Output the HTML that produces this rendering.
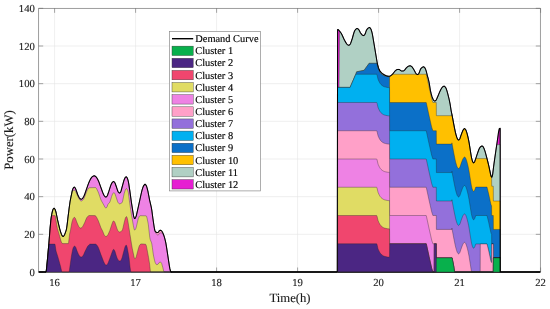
<!DOCTYPE html>
<html><head><meta charset="utf-8"><title>Power clusters</title>
<style>html,body{margin:0;padding:0;background:#fff;}svg{display:block;}text{text-rendering:geometricPrecision;}</style></head>
<body><svg width="550" height="309" viewBox="0 0 550 309">
<rect x="0" y="0" width="550" height="309" fill="#fff"/>
<g stroke="#e4e4e4" stroke-width="0.6"><line x1="54.60" y1="8.30" x2="54.60" y2="272.00"/><line x1="135.60" y1="8.30" x2="135.60" y2="272.00"/><line x1="216.60" y1="8.30" x2="216.60" y2="272.00"/><line x1="297.60" y1="8.30" x2="297.60" y2="272.00"/><line x1="378.60" y1="8.30" x2="378.60" y2="272.00"/><line x1="459.60" y1="8.30" x2="459.60" y2="272.00"/><line x1="38.70" y1="234.33" x2="540.30" y2="234.33"/><line x1="38.70" y1="196.67" x2="540.30" y2="196.67"/><line x1="38.70" y1="159.00" x2="540.30" y2="159.00"/><line x1="38.70" y1="121.33" x2="540.30" y2="121.33"/><line x1="38.70" y1="83.67" x2="540.30" y2="83.67"/><line x1="38.70" y1="46.00" x2="540.30" y2="46.00"/></g>
<rect x="38.70" y="8.30" width="501.60" height="263.70" fill="none" stroke="#6a6a6a" stroke-width="0.65"/>
<g stroke="#6a6a6a" stroke-width="0.6"><line x1="54.60" y1="272.00" x2="54.60" y2="267.50"/><line x1="54.60" y1="8.30" x2="54.60" y2="12.80"/><line x1="135.60" y1="272.00" x2="135.60" y2="267.50"/><line x1="135.60" y1="8.30" x2="135.60" y2="12.80"/><line x1="216.60" y1="272.00" x2="216.60" y2="267.50"/><line x1="216.60" y1="8.30" x2="216.60" y2="12.80"/><line x1="297.60" y1="272.00" x2="297.60" y2="267.50"/><line x1="297.60" y1="8.30" x2="297.60" y2="12.80"/><line x1="378.60" y1="272.00" x2="378.60" y2="267.50"/><line x1="378.60" y1="8.30" x2="378.60" y2="12.80"/><line x1="459.60" y1="272.00" x2="459.60" y2="267.50"/><line x1="459.60" y1="8.30" x2="459.60" y2="12.80"/><line x1="540.60" y1="272.00" x2="540.60" y2="267.50"/><line x1="540.60" y1="8.30" x2="540.60" y2="12.80"/><line x1="38.70" y1="272.00" x2="43.20" y2="272.00"/><line x1="540.30" y1="272.00" x2="535.80" y2="272.00"/><line x1="38.70" y1="234.33" x2="43.20" y2="234.33"/><line x1="540.30" y1="234.33" x2="535.80" y2="234.33"/><line x1="38.70" y1="196.67" x2="43.20" y2="196.67"/><line x1="540.30" y1="196.67" x2="535.80" y2="196.67"/><line x1="38.70" y1="159.00" x2="43.20" y2="159.00"/><line x1="540.30" y1="159.00" x2="535.80" y2="159.00"/><line x1="38.70" y1="121.33" x2="43.20" y2="121.33"/><line x1="540.30" y1="121.33" x2="535.80" y2="121.33"/><line x1="38.70" y1="83.67" x2="43.20" y2="83.67"/><line x1="540.30" y1="83.67" x2="535.80" y2="83.67"/><line x1="38.70" y1="46.00" x2="43.20" y2="46.00"/><line x1="540.30" y1="46.00" x2="535.80" y2="46.00"/><line x1="38.70" y1="8.33" x2="43.20" y2="8.33"/><line x1="540.30" y1="8.33" x2="535.80" y2="8.33"/></g>
<polygon points="45.60,272.00 45.60,272.00 45.85,271.96 46.10,271.73 46.35,270.34 46.60,268.05 47.35,260.52 48.85,244.01 50.10,228.33 50.85,220.30 51.35,216.70 51.85,213.78 52.35,211.53 53.10,209.30 53.60,208.53 53.85,208.28 54.10,208.20 54.35,208.36 54.60,208.66 55.10,209.50 55.60,210.96 56.10,212.76 57.60,220.10 58.60,224.49 59.60,228.50 60.60,232.05 61.35,234.13 61.85,235.26 62.10,235.68 62.85,236.42 63.10,236.50 63.35,236.43 63.60,236.23 64.35,235.26 64.85,234.15 66.10,230.59 66.60,228.52 67.10,225.11 68.10,216.58 69.35,206.71 70.10,201.50 70.60,198.79 72.35,190.48 72.60,189.60 73.10,188.37 73.60,187.61 74.10,187.16 74.35,187.10 74.60,187.23 75.10,187.79 75.60,188.78 76.35,190.76 77.85,195.04 79.10,197.52 79.85,198.52 80.60,199.09 81.10,199.29 81.35,199.28 81.60,199.19 82.35,198.65 82.85,198.07 83.60,196.79 84.10,195.78 85.10,193.20 88.35,183.87 89.35,181.49 90.35,179.38 91.10,178.14 91.85,177.19 92.35,176.67 93.10,176.16 93.60,175.93 94.10,175.80 94.35,175.81 94.85,175.98 95.60,176.43 95.85,176.64 96.60,177.58 97.60,179.27 98.35,180.70 98.85,181.88 102.60,192.27 103.35,194.10 104.10,195.51 104.60,196.25 105.35,196.89 105.85,197.10 106.10,197.05 106.60,196.62 107.10,195.96 107.60,194.97 108.85,191.38 110.60,185.84 111.35,184.07 111.85,183.09 112.35,182.35 112.85,181.88 113.35,181.55 113.60,181.50 113.85,181.58 114.10,181.78 114.85,182.77 115.10,183.29 116.35,186.79 117.60,190.56 118.10,191.70 118.60,192.37 119.10,192.88 119.35,193.04 119.60,193.10 119.85,193.00 120.10,192.74 120.60,191.93 121.10,190.76 123.60,181.53 124.10,180.00 124.60,178.71 125.10,177.71 125.85,176.91 126.10,176.80 126.35,176.87 126.60,177.10 127.10,177.82 127.60,178.96 128.10,180.62 128.60,182.90 129.85,191.12 131.35,202.10 133.35,214.62 133.60,215.95 133.85,216.86 134.35,218.22 134.60,218.57 134.85,218.56 135.10,218.34 135.35,217.96 136.10,216.37 136.35,215.54 138.10,207.93 141.35,193.00 142.35,189.16 143.10,186.95 143.60,185.78 143.85,185.37 144.35,184.72 144.85,184.27 145.10,184.20 145.35,184.30 145.60,184.55 146.35,185.79 146.60,186.42 147.60,190.00 148.10,192.23 149.60,200.10 151.35,207.67 151.85,210.57 152.85,218.28 154.10,226.73 154.60,229.50 154.85,230.48 155.10,231.10 155.35,231.47 155.85,232.01 156.60,232.47 157.10,232.60 157.60,232.54 158.35,232.26 158.60,231.96 159.10,230.94 159.35,230.64 160.10,230.36 160.60,230.30 160.85,230.35 161.35,230.69 162.10,231.51 162.60,232.40 163.10,233.55 163.85,235.51 164.60,237.90 165.35,240.85 165.85,243.20 166.60,247.62 169.35,265.80 169.85,268.67 170.10,269.75 170.60,271.37 170.85,271.90 171.10,272.00 171.35,272.00 171.35,272.00" fill="#ffa0c8" stroke="#222" stroke-width="0.35" stroke-linejoin="round"/>
<polygon points="45.60,272.00 45.60,272.00 45.85,271.96 46.10,271.73 46.35,270.34 46.60,268.05 47.35,260.52 48.85,244.01 50.10,228.33 50.85,220.30 51.35,216.70 51.85,213.78 52.35,211.53 53.10,209.30 53.60,208.53 53.85,208.28 54.10,208.20 54.35,208.36 54.60,208.66 55.10,209.50 55.60,210.96 56.10,212.76 57.60,220.10 58.60,224.49 59.60,228.50 60.60,232.05 61.35,234.13 61.85,235.26 62.10,235.68 62.85,236.42 63.10,236.50 63.35,236.43 63.60,236.23 64.35,235.26 64.85,234.15 66.10,230.59 66.60,228.52 67.10,225.11 68.10,216.58 69.35,206.71 70.10,201.50 70.60,198.79 72.35,190.48 72.60,189.60 73.10,188.37 73.60,187.61 74.10,187.16 74.35,187.10 74.60,187.23 75.10,187.79 75.60,188.78 76.35,190.76 77.85,195.04 79.10,197.52 79.85,198.52 80.60,199.09 81.10,199.29 81.35,199.28 81.60,199.19 82.35,198.65 82.85,198.07 83.60,196.79 84.10,195.78 85.10,193.20 88.35,183.87 89.35,181.49 90.35,179.38 91.10,178.14 91.85,177.19 92.35,176.67 93.10,176.16 93.60,175.93 94.10,175.80 94.35,175.81 94.85,175.98 95.60,176.43 95.85,176.64 96.60,177.58 97.60,179.27 98.35,180.70 98.85,181.88 102.60,192.27 103.35,194.10 104.10,195.51 104.60,196.25 105.35,196.89 105.85,197.10 106.10,197.05 106.60,196.62 107.10,195.96 107.60,194.97 108.85,191.38 110.60,185.84 111.35,184.07 111.85,183.09 112.35,182.35 112.85,181.88 113.35,181.55 113.60,181.50 113.85,181.58 114.10,181.78 114.85,182.77 115.10,183.29 116.35,186.79 117.60,190.56 118.10,191.70 118.60,192.37 119.10,192.88 119.35,193.04 119.60,193.10 119.85,193.00 120.10,192.74 120.60,191.93 121.10,190.76 123.60,181.53 124.10,180.00 124.60,178.71 125.10,177.71 125.85,176.91 126.10,176.80 126.35,176.87 126.60,177.10 127.10,177.82 127.60,178.96 128.10,180.62 128.60,182.90 129.85,191.12 131.35,202.10 133.35,214.62 133.60,215.95 133.85,216.86 134.35,218.22 134.60,218.57 134.85,218.56 135.10,218.34 135.35,217.96 136.10,216.37 136.35,215.54 137.85,209.05 141.60,191.93 142.35,189.16 143.10,186.95 143.60,185.78 143.85,185.60 146.10,185.60 146.35,185.79 146.85,187.19 147.85,191.05 149.60,200.10 151.35,207.67 151.85,210.57 152.85,218.28 153.85,225.09 154.35,228.22 154.85,230.80 155.10,231.65 155.85,233.22 156.60,234.26 157.10,234.72 157.60,234.93 158.35,234.94 158.60,234.70 159.10,233.73 159.35,233.44 160.60,232.83 161.10,232.78 162.10,233.15 162.60,233.65 163.60,235.20 164.10,236.24 165.10,239.80 165.60,241.96 166.10,244.57 169.35,265.80 169.85,268.67 170.10,269.75 170.60,271.37 170.85,271.90 171.10,272.00 171.35,272.00 171.35,272.00" fill="#ee82e4" stroke="#222" stroke-width="0.35" stroke-linejoin="round"/>
<polygon points="45.60,272.00 45.60,272.00 45.85,271.96 46.10,271.73 46.35,270.34 46.60,268.05 47.35,260.52 48.85,244.01 50.10,228.33 50.85,220.30 51.35,216.70 52.10,212.57 52.35,211.53 52.85,209.92 53.35,208.86 53.85,208.28 54.10,208.20 54.35,208.36 54.85,209.04 55.35,210.17 56.10,212.76 57.60,220.10 58.85,225.55 59.60,228.50 60.60,232.05 61.35,234.13 61.85,235.26 62.10,235.68 62.85,236.42 63.10,236.50 63.35,236.43 63.60,236.23 64.10,235.62 64.60,234.77 66.10,230.59 66.60,228.52 67.10,225.11 68.10,216.58 69.85,203.08 70.35,200.09 70.85,197.57 72.10,191.61 72.35,191.00 72.60,190.99 72.85,190.88 73.60,190.45 74.35,190.30 74.60,190.35 75.10,190.76 75.35,191.04 75.60,191.46 77.85,196.58 79.35,199.42 79.85,200.11 80.35,200.54 80.85,200.88 81.35,201.00 81.85,200.83 82.60,200.31 83.10,199.75 83.85,198.58 84.60,196.99 86.10,192.97 87.35,190.10 87.85,189.20 88.85,188.04 89.35,187.72 89.60,187.70 95.35,187.60 95.60,187.61 95.85,187.73 96.35,188.29 96.85,189.17 98.10,191.81 98.85,193.70 100.60,198.88 101.10,200.10 101.60,201.12 103.85,205.04 104.85,207.07 105.35,207.68 105.60,207.89 105.85,208.00 106.10,207.94 106.35,207.75 106.85,207.12 107.10,206.67 107.85,204.51 108.10,204.00 108.60,203.45 109.35,202.81 109.85,202.05 110.35,200.73 111.60,196.48 112.10,195.10 112.85,193.51 113.35,192.92 113.60,192.71 113.85,192.60 114.10,192.66 114.35,192.88 114.85,193.59 115.10,194.06 117.60,201.47 118.10,202.50 118.60,203.20 118.85,203.44 119.35,203.74 119.85,203.78 120.35,203.64 121.10,203.33 121.85,202.77 122.10,202.50 122.35,202.02 122.60,201.22 124.10,193.87 125.10,190.44 125.35,189.84 125.85,189.04 126.10,188.75 126.35,188.60 126.60,188.67 126.85,188.91 127.35,189.64 127.60,190.18 128.10,191.72 128.35,192.81 129.85,204.21 131.35,214.09 133.35,225.40 134.10,228.94 134.35,229.62 134.60,230.05 134.85,230.06 135.10,229.82 135.35,229.43 135.85,228.42 136.35,226.79 137.85,220.25 138.35,218.37 139.10,216.83 139.60,216.08 139.85,215.83 140.10,215.71 140.35,215.70 146.10,215.80 146.35,215.98 146.60,216.48 147.10,218.21 148.10,223.10 148.35,224.63 149.60,235.89 149.85,237.71 150.10,239.00 150.35,239.84 151.35,242.20 151.60,243.00 151.85,244.14 152.35,247.34 153.10,252.95 153.60,256.00 154.60,260.58 155.10,262.29 155.35,262.88 156.10,264.23 156.35,264.50 156.60,264.60 156.85,264.59 157.85,264.32 158.10,264.12 159.10,262.58 159.35,262.38 160.35,262.11 160.60,262.10 160.85,262.22 161.10,262.51 161.60,263.37 161.85,264.02 162.85,267.64 163.60,270.75 163.85,271.53 164.10,271.96 164.35,272.00 171.35,272.00 171.35,272.00" fill="#e0dc64" stroke="#222" stroke-width="0.35" stroke-linejoin="round"/>
<polygon points="45.60,272.00 45.60,272.00 45.85,271.96 46.10,271.73 46.35,270.34 46.60,268.05 47.35,260.52 49.10,241.18 49.85,231.35 50.60,222.69 51.10,218.38 51.35,216.70 51.60,215.60 55.10,215.62 55.35,216.28 56.85,225.53 57.35,228.22 60.85,240.49 61.35,242.04 61.85,243.06 62.10,243.30 62.85,243.59 68.10,243.60 68.35,243.57 68.60,242.59 69.60,234.00 70.60,229.51 71.85,222.62 72.35,220.74 72.85,219.24 73.10,218.67 73.60,217.88 74.10,217.36 74.35,217.30 74.60,217.42 74.85,217.66 75.35,218.32 75.60,218.80 76.60,221.60 77.60,224.04 78.60,226.24 79.10,227.03 79.60,227.53 80.35,228.02 80.85,228.09 81.35,227.87 82.10,227.31 82.85,226.25 84.60,222.77 86.10,219.10 86.85,217.59 87.60,216.64 88.35,215.89 88.85,215.57 89.35,215.50 95.10,215.61 95.35,215.71 95.85,216.17 96.60,217.33 98.35,220.83 100.85,227.53 101.35,228.62 102.60,231.00 104.10,234.69 104.35,235.17 104.85,235.80 105.35,236.27 105.85,236.50 106.35,236.37 107.10,235.82 107.60,235.26 108.10,234.41 108.85,232.78 109.85,230.38 111.60,225.04 112.60,222.19 112.85,221.64 113.10,221.30 113.35,221.02 113.60,220.90 113.85,220.99 114.10,221.21 114.85,222.34 117.10,228.90 117.60,230.13 118.10,231.00 118.60,231.54 118.85,231.73 119.35,231.96 119.60,232.00 120.10,231.91 120.85,231.59 121.60,231.06 122.10,230.50 122.35,230.04 122.60,229.33 123.10,227.41 124.10,222.89 125.10,218.88 125.35,218.12 125.85,217.14 126.10,216.78 126.35,216.61 126.60,216.73 127.10,217.69 127.35,218.56 127.85,220.83 131.35,243.10 132.35,248.88 134.10,257.02 134.35,257.91 134.60,258.47 134.85,258.79 135.10,258.73 135.35,258.49 135.85,257.64 136.35,256.53 137.60,251.45 138.60,247.90 139.10,246.33 139.60,245.24 140.35,244.36 140.85,243.99 141.10,243.91 143.35,243.99 145.60,244.30 145.85,244.53 146.10,245.07 146.60,246.92 148.60,257.69 149.60,264.00 150.35,271.07 150.60,272.00 171.35,272.00 171.35,272.00" fill="#f0466e" stroke="#222" stroke-width="0.35" stroke-linejoin="round"/>
<polygon points="45.60,272.00 45.60,272.00 45.85,271.96 46.10,271.73 46.35,270.34 47.35,260.52 48.85,244.10 54.85,244.12 55.10,244.83 55.85,249.76 56.10,251.10 56.35,252.06 57.85,256.69 58.85,260.14 60.60,266.60 61.60,271.00 61.85,271.73 62.10,272.00 68.85,272.00 69.10,271.66 69.35,270.47 71.35,256.49 72.10,252.23 72.85,248.75 73.35,247.43 73.85,246.62 74.35,246.18 74.60,246.10 74.85,246.18 75.35,246.71 75.85,247.48 77.10,251.10 78.35,253.96 79.10,255.41 79.60,256.12 80.10,256.57 80.85,257.03 81.35,257.09 81.85,256.87 82.35,256.51 82.60,256.29 83.10,255.60 83.60,254.63 84.85,251.81 86.60,248.24 87.35,246.80 87.85,246.02 88.60,245.18 89.35,244.47 89.85,244.17 90.35,244.10 95.60,244.11 95.85,244.19 96.35,244.56 97.35,245.80 98.10,247.01 98.85,248.75 100.85,254.35 103.60,261.51 104.85,264.06 105.35,264.66 105.85,265.04 106.10,265.10 106.35,265.05 106.60,264.91 107.35,264.21 107.85,263.45 108.35,262.33 110.10,257.69 112.60,250.70 112.85,250.14 113.10,249.80 113.35,249.52 113.60,249.40 113.85,249.49 114.10,249.74 114.85,250.97 115.10,251.65 116.10,255.10 116.85,257.27 117.35,258.52 117.85,259.41 118.60,260.39 119.10,260.77 119.60,261.04 119.85,261.10 120.10,261.05 120.60,260.67 120.85,260.40 121.35,259.53 122.10,257.64 123.85,250.99 125.10,246.60 125.60,245.67 125.85,245.32 126.10,245.12 126.35,245.18 126.60,245.60 127.10,247.03 128.10,252.20 129.10,258.28 130.10,267.40 130.35,269.08 130.60,270.68 130.85,271.78 131.10,272.00 171.35,272.00 171.35,272.00" fill="#4b2683" stroke="#222" stroke-width="0.35" stroke-linejoin="round"/>
<polygon points="337.60,272.00 337.60,29.50 338.00,29.50 339.00,30.44 340.10,31.75 341.20,33.31 342.10,34.99 344.50,40.21 346.60,43.71 347.10,44.34 347.50,44.71 348.30,45.15 348.90,45.30 349.30,45.15 349.80,44.65 350.30,44.00 350.70,43.19 352.30,38.49 353.70,33.49 354.20,31.93 354.50,31.20 355.00,30.29 355.50,29.56 355.90,29.14 356.60,28.65 357.10,28.50 357.60,28.64 358.40,29.20 359.00,30.00 360.40,32.70 361.60,34.37 362.30,35.05 363.10,35.49 363.60,35.60 363.90,35.51 364.20,35.27 365.00,34.25 365.40,33.29 366.40,30.38 366.80,29.69 367.40,28.87 368.10,28.17 369.00,27.65 369.60,27.50 369.80,27.56 370.00,27.72 370.70,28.74 371.10,29.58 371.70,31.48 372.30,33.87 372.80,36.58 377.10,62.27 377.60,64.71 378.30,67.18 378.80,68.67 379.30,69.87 379.70,70.60 380.50,71.70 381.30,72.57 382.20,73.37 383.40,74.24 384.60,74.95 386.20,75.68 387.60,76.13 389.10,76.30 389.60,76.21 390.20,76.01 390.80,75.71 391.60,75.05 393.30,73.27 395.20,70.88 395.90,70.28 396.60,69.82 397.30,69.55 397.90,69.41 398.50,69.42 399.20,69.52 399.50,69.60 399.80,69.77 400.80,70.66 401.20,70.90 402.40,71.09 403.10,71.02 403.90,70.68 404.30,70.39 404.80,69.85 406.30,67.89 407.70,66.70 408.70,66.12 409.50,65.88 410.10,65.80 410.50,65.87 411.10,66.14 411.60,66.46 412.00,66.86 412.70,67.82 414.20,70.26 415.50,72.76 416.00,73.57 416.30,73.90 417.00,74.40 417.40,74.58 417.70,74.59 418.20,74.27 419.00,73.27 419.40,72.31 420.30,69.69 420.60,69.10 421.10,68.43 421.70,67.77 422.30,67.31 423.30,66.86 423.70,66.80 423.90,66.85 424.20,67.06 424.50,67.39 424.90,67.90 425.20,68.43 425.80,69.92 426.40,71.78 427.20,75.10 428.40,79.48 428.90,81.54 429.30,83.62 430.40,90.52 431.20,93.96 431.90,96.44 432.50,98.10 433.30,99.77 433.60,100.22 434.00,100.63 434.40,100.96 434.70,101.09 435.00,101.06 435.40,100.82 436.10,100.10 436.40,99.64 437.90,96.30 439.90,91.42 441.10,89.04 441.90,87.75 442.40,87.16 442.90,86.69 443.80,86.25 444.10,86.20 444.40,86.28 445.10,86.83 445.50,87.37 446.00,88.29 446.70,90.06 447.50,92.82 448.90,98.32 450.10,104.10 451.10,110.55 452.20,115.80 453.80,124.57 454.90,130.03 456.00,134.75 456.80,137.38 457.30,138.63 457.90,139.55 458.30,139.98 458.50,140.09 458.70,140.09 459.10,139.80 459.70,138.97 460.00,138.39 461.00,135.38 462.20,132.11 462.80,130.68 463.40,129.60 463.90,128.97 464.30,128.69 464.60,128.60 464.80,128.66 465.00,128.81 465.60,129.56 466.10,130.66 467.00,133.38 467.70,136.04 468.50,139.62 469.20,143.45 471.10,155.49 471.60,158.10 472.10,160.10 472.50,161.35 473.10,162.47 473.50,162.88 473.70,162.88 474.00,162.67 474.50,162.02 474.80,161.43 478.50,150.52 479.00,149.20 479.50,148.16 480.00,147.43 480.50,146.85 480.90,146.51 481.40,146.22 481.80,146.05 482.20,146.01 482.50,146.16 482.80,146.45 483.40,147.20 483.90,148.24 484.80,150.67 485.40,152.63 487.10,159.00 488.30,163.82 490.90,175.78 491.30,176.81 491.60,177.26 491.70,177.30 491.80,177.25 492.10,176.60 492.70,174.09 493.60,166.70 494.30,161.57 498.50,132.32 499.00,129.81 499.30,128.69 499.50,128.40 500.20,128.30 500.20,272.00" fill="#e61ed2" stroke="#222" stroke-width="0.35" stroke-linejoin="round"/>
<polygon points="337.60,272.00 337.60,87.40 339.00,87.40 339.60,31.12 340.70,32.57 341.50,33.82 342.30,35.41 344.40,40.01 346.40,43.42 347.00,44.23 347.50,44.71 348.40,45.19 349.00,45.29 349.40,45.07 349.90,44.53 350.30,44.00 350.70,43.19 352.30,38.49 353.70,33.49 354.20,31.93 354.50,31.20 355.00,30.29 355.50,29.56 355.90,29.14 356.60,28.65 357.10,28.50 357.60,28.64 358.40,29.20 359.00,30.00 360.40,32.70 361.60,34.37 362.10,34.90 362.70,35.29 363.30,35.56 363.70,35.59 363.90,35.51 364.20,35.27 365.00,34.25 365.40,33.29 366.40,30.38 367.20,29.12 367.80,28.43 368.30,28.03 369.10,27.61 369.40,27.52 369.70,27.52 369.90,27.63 370.20,27.96 371.00,29.33 371.60,31.12 372.30,33.87 372.80,36.58 376.90,61.13 377.30,63.33 377.70,65.10 378.70,68.39 379.50,70.26 380.00,71.04 380.70,71.93 381.40,72.67 382.20,73.37 383.30,74.17 384.30,74.79 385.30,75.30 386.40,75.76 387.30,76.06 388.20,76.23 389.00,76.30 389.60,76.21 390.60,75.84 391.40,75.24 393.30,73.27 395.20,70.88 395.90,70.28 396.60,69.82 397.30,69.55 397.90,69.41 398.50,69.42 399.20,69.52 399.50,69.60 399.80,69.77 400.80,70.66 401.20,70.90 402.40,71.09 403.10,71.02 403.90,70.68 404.30,70.39 404.80,69.85 406.30,67.89 407.70,66.70 408.70,66.12 409.50,65.88 410.10,65.80 410.50,65.87 411.10,66.14 411.60,66.46 412.00,66.86 412.70,67.82 414.20,70.26 415.50,72.76 416.00,73.57 416.30,73.90 417.00,74.40 417.40,74.58 417.70,74.59 418.20,74.27 419.00,73.27 419.40,72.31 420.30,69.69 420.60,69.10 421.10,68.43 421.70,67.77 422.30,67.31 423.30,66.86 423.70,66.80 423.90,66.85 424.20,67.06 424.50,67.39 424.90,67.90 425.20,68.43 425.80,69.92 426.40,71.78 427.20,75.10 428.40,79.48 428.90,81.54 429.30,83.62 430.40,90.52 431.20,93.96 431.90,96.44 432.50,98.10 433.30,99.77 433.60,100.22 434.00,100.63 434.40,100.96 434.70,101.09 435.00,101.06 435.40,100.82 436.10,100.10 436.40,99.64 437.90,96.30 439.90,91.42 441.10,89.04 441.90,87.75 442.40,87.16 442.90,86.69 443.40,86.41 443.90,86.22 444.20,86.21 444.50,86.34 445.00,86.74 445.30,87.07 445.70,87.71 446.20,88.72 446.80,90.37 447.70,93.57 449.00,98.75 450.10,104.10 451.10,110.55 452.20,115.80 453.80,124.57 454.70,129.06 455.80,134.01 456.50,136.45 457.00,137.94 457.40,138.82 458.20,139.90 458.40,140.05 458.60,140.10 458.80,140.05 459.00,139.90 459.70,138.97 460.00,138.39 461.00,135.38 462.20,132.11 462.80,130.68 463.40,129.60 463.90,128.97 464.30,128.69 464.60,128.60 464.80,128.66 465.00,128.81 465.60,129.56 466.10,130.66 467.00,133.38 467.70,136.04 468.50,139.62 469.20,143.45 471.10,155.49 471.60,158.10 472.10,160.10 472.50,161.35 473.00,162.31 473.40,162.82 473.70,162.88 474.00,162.67 474.50,162.02 474.80,161.43 478.40,150.80 479.00,149.20 479.40,148.34 480.20,147.18 480.90,146.51 481.50,146.17 481.90,146.02 482.20,146.01 482.50,146.16 483.30,147.05 483.70,147.78 484.60,150.10 485.20,151.94 487.00,158.61 488.20,163.40 490.90,175.78 491.40,177.01 491.60,177.26 491.70,177.30 491.80,177.25 492.00,176.88 492.30,175.88 492.60,174.63 492.80,173.43 494.00,163.74 496.70,144.94 496.80,144.60 500.20,144.60 500.20,272.00" fill="#b0d0c4" stroke="#222" stroke-width="0.35" stroke-linejoin="round"/>
<polygon points="337.60,272.00 337.60,87.40 350.10,87.40 355.80,74.20 356.60,71.80 364.10,70.30 369.10,63.30 376.60,63.30 376.70,63.35 376.90,63.69 377.10,64.30 377.90,67.74 378.20,68.70 379.40,71.25 380.00,72.30 380.50,73.03 381.00,73.61 381.70,74.22 382.60,74.89 383.40,75.37 384.70,75.92 386.80,76.40 388.20,76.62 389.50,76.70 389.60,76.21 390.40,75.94 390.90,75.64 391.50,75.14 392.40,74.25 416.70,74.25 417.20,74.51 417.60,74.60 417.90,74.51 418.30,74.25 426.20,74.25 426.30,74.48 429.00,87.00 431.70,98.88 432.90,102.50 436.30,102.50 436.40,115.65 451.80,115.65 451.90,114.35 454.00,125.60 455.10,130.98 455.80,134.01 456.60,136.77 457.10,138.19 457.40,138.82 457.80,139.42 458.10,139.80 458.40,140.05 458.70,140.09 459.00,139.90 459.40,139.42 459.90,138.62 460.20,137.86 461.00,135.38 462.30,131.85 462.90,130.47 463.50,129.44 463.90,128.97 464.30,128.69 464.60,128.60 464.80,128.66 465.00,128.81 465.50,129.42 466.00,130.40 466.80,132.72 467.50,135.23 468.20,138.22 469.10,142.84 471.30,156.64 472.00,159.73 472.60,161.58 473.10,162.47 473.40,162.82 473.60,162.90 473.90,162.76 474.30,162.30 474.70,161.66 475.80,158.60 487.00,158.61 488.70,165.54 490.80,175.38 491.10,176.37 491.40,177.01 491.60,177.26 491.70,186.20 493.30,186.20 493.40,201.00 500.20,201.00 500.20,272.00" fill="#ffc000" stroke="#222" stroke-width="0.35" stroke-linejoin="round"/>
<polygon points="337.60,272.00 337.60,87.40 350.10,87.40 355.80,74.20 356.60,71.80 364.10,70.30 369.10,63.30 376.60,63.30 376.80,63.48 377.10,64.30 377.90,67.74 378.20,68.70 379.00,70.46 379.70,71.80 380.40,72.89 381.00,73.61 381.80,74.30 382.70,74.95 383.60,75.47 384.40,75.82 385.60,76.14 387.20,76.47 388.40,76.64 389.50,76.70 389.60,102.50 426.20,102.50 426.30,102.73 429.00,115.25 431.70,127.13 432.90,130.75 436.30,130.75 436.40,144.10 451.80,144.10 451.90,142.80 454.00,154.05 455.10,159.43 455.80,162.46 456.60,165.22 457.10,166.64 457.40,167.27 457.80,167.87 458.10,168.25 458.40,168.50 458.70,168.54 459.00,168.35 459.40,167.87 459.90,167.07 460.20,166.31 461.00,163.83 462.30,160.30 462.90,158.92 463.50,157.89 463.90,157.42 464.30,157.14 464.60,157.05 464.80,157.11 465.00,157.26 465.50,157.87 466.00,158.85 466.80,161.17 467.50,163.68 468.20,166.67 469.10,171.29 471.30,185.09 472.00,188.18 472.60,190.03 473.10,190.92 473.40,191.27 473.60,191.35 473.90,191.21 474.30,190.75 474.70,190.11 475.80,187.05 487.00,187.06 488.70,193.99 490.80,203.83 491.10,204.82 491.40,205.46 491.60,205.71 491.70,215.50 493.30,215.50 493.40,229.45 500.20,229.45 500.20,272.00" fill="#0b70c8" stroke="#222" stroke-width="0.35" stroke-linejoin="round"/>
<polygon points="337.60,272.00 337.60,87.40 350.10,87.40 355.80,74.25 376.60,74.25 376.80,74.43 377.10,75.25 377.90,78.69 378.20,79.65 379.00,81.41 379.70,82.75 380.40,83.84 381.00,84.56 381.80,85.25 382.70,85.90 383.60,86.42 384.40,86.77 385.60,87.09 387.20,87.42 388.40,87.59 389.50,87.65 389.60,130.75 426.20,130.75 426.30,130.98 429.00,143.50 431.70,155.38 432.90,159.00 436.30,159.00 436.40,172.55 451.80,172.55 451.90,171.25 454.00,182.50 455.10,187.88 455.80,190.91 456.60,193.67 457.10,195.09 457.40,195.72 457.80,196.32 458.10,196.70 458.40,196.95 458.70,196.99 459.00,196.80 459.40,196.32 459.90,195.52 460.20,194.76 461.00,192.28 462.30,188.75 462.90,187.37 463.50,186.34 463.90,185.87 464.30,185.59 464.60,185.50 464.80,185.56 465.00,185.71 465.50,186.32 466.00,187.30 466.80,189.62 467.50,192.13 468.20,195.12 469.10,199.74 471.30,213.54 472.00,216.63 472.60,218.48 473.10,219.37 473.40,219.72 473.60,219.80 473.90,219.66 474.30,219.20 474.70,218.56 475.80,215.50 487.00,215.51 488.70,222.44 490.80,232.28 491.10,233.27 491.40,233.91 491.60,234.16 491.70,243.95 493.30,243.95 493.40,257.90 500.20,257.90 500.20,272.00" fill="#00b0f0" stroke="#222" stroke-width="0.35" stroke-linejoin="round"/>
<polygon points="337.60,272.00 337.60,102.50 376.60,102.50 376.70,102.55 376.90,102.89 377.10,103.50 377.90,106.94 378.20,107.90 379.00,109.66 379.70,111.00 380.40,112.09 381.00,112.81 381.80,113.50 382.70,114.15 383.60,114.67 384.40,115.02 385.60,115.34 387.20,115.67 388.40,115.84 389.50,115.90 389.60,159.00 426.20,159.00 426.30,159.23 429.00,171.75 431.70,183.63 432.90,187.25 436.30,187.25 436.40,201.00 451.80,201.00 451.90,199.70 454.00,210.95 455.60,218.55 456.30,221.13 457.00,223.29 457.40,224.17 458.10,225.15 458.50,225.44 458.80,225.40 459.20,225.03 459.80,224.16 460.20,223.21 461.00,220.73 462.40,216.95 463.00,215.63 463.70,214.52 463.90,214.32 464.40,213.99 464.60,213.95 464.80,214.01 465.10,214.26 465.50,214.77 465.90,215.51 466.60,217.45 467.20,219.44 467.90,222.23 468.60,225.45 469.20,228.80 471.10,240.84 471.60,243.45 472.40,246.43 472.70,247.13 473.20,247.96 473.50,248.23 473.70,248.23 474.00,248.02 474.50,247.37 474.90,246.52 475.80,243.95 487.00,243.96 488.70,250.89 490.80,260.73 491.10,261.72 491.40,262.36 491.60,262.61 491.70,243.95 493.30,243.95 493.40,257.90 500.20,257.90 500.20,272.00" fill="#9370db" stroke="#222" stroke-width="0.35" stroke-linejoin="round"/>
<polygon points="337.60,272.00 337.60,130.75 376.60,130.75 376.80,130.93 377.10,131.75 377.90,135.19 378.20,136.15 379.00,137.91 379.70,139.25 380.40,140.34 381.00,141.06 381.80,141.75 382.70,142.40 383.60,142.92 384.40,143.27 385.60,143.59 387.20,143.92 388.40,144.09 389.50,144.15 389.60,187.25 426.20,187.25 426.30,187.48 429.00,200.00 431.70,211.88 432.90,215.50 436.30,215.50 436.40,229.45 451.80,229.45 451.90,228.15 454.00,239.40 455.10,244.78 455.80,247.81 456.60,250.57 457.10,251.99 457.40,252.62 457.80,253.22 458.10,253.60 458.40,253.85 458.70,253.89 459.00,253.70 459.40,253.22 459.90,252.42 460.20,251.66 461.00,249.18 462.20,245.91 462.80,244.48 463.40,243.40 463.90,242.77 464.50,242.41 464.80,242.46 465.20,242.83 465.60,243.36 465.80,243.74 466.60,245.90 467.30,248.26 468.10,251.56 469.00,256.05 471.20,269.88 471.60,271.90 471.70,272.00 480.20,272.00 480.30,243.95 487.00,243.96 488.70,250.89 490.80,260.73 491.10,261.72 491.40,262.36 491.60,262.61 491.70,243.95 493.30,243.95 493.40,257.90 500.20,257.90 500.20,272.00" fill="#ffa0c8" stroke="#222" stroke-width="0.35" stroke-linejoin="round"/>
<polygon points="337.60,272.00 337.60,159.00 376.60,159.00 376.70,159.05 376.90,159.39 377.10,160.00 377.90,163.44 378.20,164.40 379.00,166.16 379.70,167.50 380.40,168.59 381.00,169.31 381.80,170.00 382.70,170.65 383.60,171.17 384.40,171.52 385.60,171.84 387.20,172.17 388.40,172.34 389.50,172.40 389.60,215.50 426.20,215.50 426.30,215.73 429.00,228.25 431.70,240.13 432.90,243.75 436.30,243.75 436.40,257.90 452.10,257.90 453.70,266.14 454.50,272.00 493.30,272.00 493.40,257.90 500.20,257.90 500.20,272.00" fill="#ee82e4" stroke="#222" stroke-width="0.35" stroke-linejoin="round"/>
<polygon points="337.60,272.00 337.60,187.25 376.60,187.25 376.70,187.30 376.90,187.64 377.10,188.25 377.90,191.69 378.20,192.65 379.00,194.41 379.70,195.75 380.40,196.84 381.00,197.56 381.80,198.25 382.70,198.90 383.60,199.42 384.40,199.77 385.60,200.09 387.20,200.42 388.40,200.59 389.50,200.65 389.60,243.75 426.20,243.75 426.30,243.98 429.00,256.50 431.70,268.38 432.90,272.00 434.20,272.00 434.30,243.75 436.30,243.75 436.40,257.90 452.10,257.90 453.70,266.14 454.50,272.00 493.30,272.00 493.40,257.90 500.20,257.90 500.20,272.00" fill="#e0dc64" stroke="#222" stroke-width="0.35" stroke-linejoin="round"/>
<polygon points="337.60,272.00 337.60,215.50 376.60,215.50 376.80,215.68 377.10,216.50 377.90,219.94 378.20,220.90 379.00,222.66 379.70,224.00 380.40,225.09 381.00,225.81 381.80,226.50 382.70,227.15 383.60,227.67 384.40,228.02 385.60,228.34 387.20,228.67 388.40,228.84 389.50,228.90 389.60,243.75 426.20,243.75 426.30,243.98 429.00,256.50 431.70,268.38 432.90,272.00 434.20,272.00 434.30,243.75 436.30,243.75 436.40,257.90 452.10,257.90 453.70,266.14 454.50,272.00 493.30,272.00 493.40,257.90 500.20,257.90 500.20,272.00" fill="#f0466e" stroke="#222" stroke-width="0.35" stroke-linejoin="round"/>
<polygon points="337.60,272.00 337.60,243.75 376.60,243.75 376.80,243.93 377.10,244.75 377.90,248.19 378.20,249.15 379.00,250.91 379.70,252.25 380.40,253.34 381.00,254.06 381.80,254.75 382.70,255.40 383.60,255.92 384.40,256.27 385.60,256.59 387.20,256.92 388.40,257.09 389.50,257.15 389.60,243.75 426.20,243.75 426.30,243.98 429.00,256.50 431.70,268.38 432.90,272.00 434.20,272.00 434.30,243.75 436.30,243.75 436.40,257.90 452.10,257.90 453.70,266.14 454.50,272.00 493.30,272.00 493.40,257.90 500.20,257.90 500.20,272.00" fill="#4b2683" stroke="#222" stroke-width="0.35" stroke-linejoin="round"/>
<polygon points="337.60,272.00 337.60,272.00 436.30,272.00 436.40,257.90 452.10,257.90 453.70,266.14 454.50,272.00 493.30,272.00 493.40,257.90 500.20,257.90 500.20,272.00" fill="#08b04c" stroke="#222" stroke-width="0.35" stroke-linejoin="round"/>
<path d="M38.70,272.00 L45.60,272.00 L45.85,271.96 L46.10,271.73 L46.35,270.34 L46.60,268.05 L47.35,260.52 L48.85,244.01 L50.10,228.33 L50.85,220.30 L51.35,216.70 L51.85,213.78 L52.35,211.53 L52.85,209.92 L53.10,209.30 L53.35,208.86 L53.60,208.53 L53.85,208.28 L54.10,208.20 L54.35,208.36 L54.60,208.66 L55.10,209.50 L55.60,210.96 L56.10,212.76 L57.60,220.10 L58.60,224.49 L59.60,228.50 L60.60,232.05 L61.35,234.13 L61.85,235.26 L62.10,235.68 L62.60,236.23 L62.85,236.42 L63.10,236.50 L63.35,236.43 L63.60,236.23 L64.35,235.26 L64.85,234.15 L66.10,230.59 L66.35,229.70 L66.60,228.52 L67.10,225.11 L68.10,216.58 L69.35,206.71 L70.10,201.50 L70.60,198.79 L72.35,190.48 L72.60,189.60 L73.10,188.37 L73.35,187.93 L73.60,187.61 L74.10,187.16 L74.35,187.10 L74.60,187.23 L75.10,187.79 L75.35,188.20 L75.60,188.78 L76.35,190.76 L77.85,195.04 L78.60,196.60 L79.10,197.52 L79.60,198.25 L79.85,198.52 L80.60,199.09 L81.10,199.29 L81.35,199.28 L81.60,199.19 L82.35,198.65 L82.85,198.07 L83.60,196.79 L84.10,195.78 L85.10,193.20 L88.35,183.87 L89.35,181.49 L90.35,179.38 L91.10,178.14 L91.85,177.19 L92.35,176.67 L92.60,176.46 L93.10,176.16 L93.60,175.93 L94.10,175.80 L94.35,175.81 L94.85,175.98 L95.60,176.43 L95.85,176.64 L96.60,177.58 L97.60,179.27 L98.35,180.70 L98.85,181.88 L102.60,192.27 L103.35,194.10 L104.10,195.51 L104.60,196.25 L104.85,196.51 L105.35,196.89 L105.60,197.03 L105.85,197.10 L106.10,197.05 L106.35,196.88 L106.60,196.62 L107.10,195.96 L107.35,195.53 L107.60,194.97 L108.85,191.38 L110.60,185.84 L111.35,184.07 L111.85,183.09 L112.35,182.35 L112.85,181.88 L113.35,181.55 L113.60,181.50 L113.85,181.58 L114.10,181.78 L114.85,182.77 L115.10,183.29 L116.35,186.79 L117.60,190.56 L118.10,191.70 L118.60,192.37 L119.10,192.88 L119.35,193.04 L119.60,193.10 L119.85,193.00 L120.10,192.74 L120.60,191.93 L120.85,191.45 L121.10,190.76 L123.60,181.53 L124.10,180.00 L124.60,178.71 L125.10,177.71 L125.60,177.13 L125.85,176.91 L126.10,176.80 L126.35,176.87 L126.60,177.10 L127.10,177.82 L127.35,178.31 L127.60,178.96 L128.10,180.62 L128.60,182.90 L129.85,191.12 L131.35,202.10 L133.35,214.62 L133.60,215.95 L133.85,216.86 L134.35,218.22 L134.60,218.57 L134.85,218.56 L135.10,218.34 L135.35,217.96 L136.10,216.37 L136.35,215.54 L138.10,207.93 L141.35,193.00 L141.85,190.92 L142.35,189.16 L143.10,186.95 L143.60,185.78 L143.85,185.37 L144.35,184.72 L144.60,184.45 L144.85,184.27 L145.10,184.20 L145.35,184.30 L145.60,184.55 L146.35,185.79 L146.60,186.42 L147.10,188.07 L147.60,190.00 L148.10,192.23 L149.60,200.10 L150.85,205.37 L151.35,207.67 L151.85,210.57 L152.85,218.28 L154.10,226.73 L154.60,229.50 L154.85,230.48 L155.10,231.10 L155.35,231.47 L155.85,232.01 L156.60,232.47 L157.10,232.60 L157.60,232.54 L158.35,232.26 L158.60,231.96 L159.10,230.94 L159.35,230.64 L160.10,230.36 L160.60,230.30 L160.85,230.35 L161.35,230.69 L162.10,231.51 L162.60,232.40 L163.10,233.55 L163.85,235.51 L164.60,237.90 L165.35,240.85 L165.85,243.20 L166.60,247.62 L169.35,265.80 L169.85,268.67 L170.10,269.75 L170.60,271.37 L170.85,271.90 L171.10,272.00 L171.35,272.00 L337.20,272.00 L337.60,29.50 L338.00,29.50 L339.00,30.44 L340.10,31.75 L341.20,33.31 L342.10,34.99 L343.80,38.76 L344.50,40.21 L345.90,42.62 L346.60,43.71 L347.10,44.34 L347.50,44.71 L348.30,45.15 L348.60,45.26 L348.90,45.30 L349.10,45.26 L349.30,45.15 L349.80,44.65 L350.30,44.00 L350.70,43.19 L351.20,41.83 L352.30,38.49 L353.70,33.49 L354.20,31.93 L354.50,31.20 L355.00,30.29 L355.50,29.56 L355.90,29.14 L356.60,28.65 L356.90,28.53 L357.10,28.50 L357.30,28.52 L357.60,28.64 L358.40,29.20 L358.70,29.54 L359.00,30.00 L360.40,32.70 L361.60,34.37 L362.00,34.81 L362.30,35.05 L363.10,35.49 L363.60,35.60 L363.90,35.51 L364.20,35.27 L365.00,34.25 L365.40,33.29 L366.10,31.16 L366.40,30.38 L366.80,29.69 L367.40,28.87 L368.10,28.17 L369.00,27.65 L369.30,27.54 L369.60,27.50 L369.80,27.56 L370.00,27.72 L370.30,28.10 L370.70,28.74 L371.10,29.58 L371.70,31.48 L372.30,33.87 L372.80,36.58 L377.10,62.27 L377.60,64.71 L378.30,67.18 L378.80,68.67 L379.30,69.87 L379.70,70.60 L380.50,71.70 L381.30,72.57 L382.20,73.37 L383.40,74.24 L384.60,74.95 L386.20,75.68 L387.00,75.97 L387.60,76.13 L388.50,76.27 L389.10,76.30 L389.60,76.21 L390.20,76.01 L390.80,75.71 L391.60,75.05 L393.30,73.27 L394.70,71.45 L395.20,70.88 L395.90,70.28 L396.60,69.82 L397.30,69.55 L397.90,69.41 L398.50,69.42 L399.20,69.52 L399.50,69.60 L399.80,69.77 L400.80,70.66 L401.20,70.90 L401.80,71.03 L402.40,71.09 L402.80,71.09 L403.10,71.02 L403.90,70.68 L404.30,70.39 L404.80,69.85 L406.30,67.89 L407.70,66.70 L408.20,66.36 L408.70,66.12 L409.50,65.88 L410.10,65.80 L410.50,65.87 L411.10,66.14 L411.60,66.46 L412.00,66.86 L412.70,67.82 L414.20,70.26 L415.50,72.76 L416.00,73.57 L416.30,73.90 L417.00,74.40 L417.40,74.58 L417.70,74.59 L417.90,74.51 L418.20,74.27 L419.00,73.27 L419.40,72.31 L420.30,69.69 L420.60,69.10 L421.10,68.43 L421.70,67.77 L422.30,67.31 L423.30,66.86 L423.70,66.80 L423.90,66.85 L424.20,67.06 L424.50,67.39 L424.90,67.90 L425.20,68.43 L425.80,69.92 L426.40,71.78 L427.20,75.10 L428.40,79.48 L428.90,81.54 L429.30,83.62 L430.40,90.52 L431.20,93.96 L431.90,96.44 L432.50,98.10 L433.30,99.77 L433.60,100.22 L434.00,100.63 L434.40,100.96 L434.70,101.09 L435.00,101.06 L435.40,100.82 L436.10,100.10 L436.40,99.64 L436.80,98.83 L437.90,96.30 L439.90,91.42 L441.10,89.04 L441.90,87.75 L442.40,87.16 L442.90,86.69 L443.20,86.50 L443.80,86.25 L444.10,86.20 L444.40,86.28 L445.10,86.83 L445.50,87.37 L446.00,88.29 L446.30,88.95 L446.70,90.06 L447.50,92.82 L448.90,98.32 L449.50,101.03 L450.10,104.10 L451.10,110.55 L452.20,115.80 L453.80,124.57 L454.90,130.03 L455.50,132.78 L456.00,134.75 L456.80,137.38 L457.30,138.63 L457.90,139.55 L458.30,139.98 L458.50,140.09 L458.70,140.09 L458.90,139.98 L459.10,139.80 L459.70,138.97 L460.00,138.39 L461.00,135.38 L462.20,132.11 L462.80,130.68 L463.40,129.60 L463.70,129.17 L463.90,128.97 L464.30,128.69 L464.60,128.60 L464.80,128.66 L465.00,128.81 L465.60,129.56 L466.10,130.66 L467.00,133.38 L467.70,136.04 L468.50,139.62 L469.20,143.45 L471.10,155.49 L471.60,158.10 L472.10,160.10 L472.50,161.35 L473.10,162.47 L473.30,162.73 L473.50,162.88 L473.70,162.88 L474.00,162.67 L474.50,162.02 L474.80,161.43 L476.00,157.94 L477.30,153.96 L478.50,150.52 L479.00,149.20 L479.50,148.16 L480.00,147.43 L480.50,146.85 L480.90,146.51 L481.40,146.22 L481.80,146.05 L482.20,146.01 L482.50,146.16 L482.80,146.45 L483.40,147.20 L483.90,148.24 L484.80,150.67 L485.40,152.63 L487.10,159.00 L488.30,163.82 L488.90,166.43 L490.90,175.78 L491.30,176.81 L491.60,177.26 L491.70,177.30 L491.80,177.25 L491.90,177.11 L492.10,176.60 L492.50,175.06 L492.70,174.09 L493.60,166.70 L494.30,161.57 L497.50,139.50 L498.50,132.32 L499.00,129.81 L499.30,128.69 L499.40,128.49 L499.50,128.40 L500.20,128.30 L500.20,272.00 L540.30,272.00" fill="none" stroke="#000" stroke-width="1.05" stroke-linejoin="round"/>
<path d="M38.7,272 L45.8,272 M171,272 L337.2,272 M500.2,272 L540.3,272" stroke="#000" stroke-width="1.3" fill="none"/>
<g font-family="'Liberation Serif', serif"  font-size="10.7" fill="#1a1a1a" stroke="#1a1a1a" stroke-width="0.12"><text x="54.60" y="286.2" text-anchor="middle">16</text><text x="135.60" y="286.2" text-anchor="middle">17</text><text x="216.60" y="286.2" text-anchor="middle">18</text><text x="297.60" y="286.2" text-anchor="middle">19</text><text x="378.60" y="286.2" text-anchor="middle">20</text><text x="459.60" y="286.2" text-anchor="middle">21</text><text x="540.60" y="286.2" text-anchor="middle">22</text><text x="34.9" y="275.80" text-anchor="end">0</text><text x="34.9" y="238.13" text-anchor="end">20</text><text x="34.9" y="200.47" text-anchor="end">40</text><text x="34.9" y="162.80" text-anchor="end">60</text><text x="34.9" y="125.13" text-anchor="end">80</text><text x="34.9" y="87.47" text-anchor="end">100</text><text x="34.9" y="49.80" text-anchor="end">120</text><text x="34.9" y="12.13" text-anchor="end">140</text></g>
<text x="290" y="302" text-anchor="middle" font-family="'Liberation Serif', serif" font-size="12.7" fill="#1a1a1a" stroke="#1a1a1a" stroke-width="0.12">Time(h)</text>
<text transform="translate(13.2,140) rotate(-90)" text-anchor="middle" font-family="'Liberation Serif', serif" font-size="12.8" fill="#1a1a1a" stroke="#1a1a1a" stroke-width="0.12">Power(kW)</text>
<g font-family="'Liberation Serif', serif" font-size="10.4" fill="#000" stroke="#000" stroke-width="0.12"><rect x="169.5" y="31.4" width="90.9" height="159.5" fill="#fff" stroke="#8a8a8a" stroke-width="0.7"/><line x1="172" y1="38.70" x2="193.2" y2="38.70" stroke="#000" stroke-width="1.4"/><text x="195.3" y="42.15" stroke-width="0.15">Demand Curve</text><rect x="172" y="46.13" width="21.2" height="9.4" fill="#08b04c" stroke="#333" stroke-width="0.4"/><text x="195.3" y="54.29" stroke-width="0.15">Cluster 1</text><rect x="172" y="58.27" width="21.2" height="9.4" fill="#4b2683" stroke="#333" stroke-width="0.4"/><text x="195.3" y="66.42" stroke-width="0.15">Cluster 2</text><rect x="172" y="70.41" width="21.2" height="9.4" fill="#f0466e" stroke="#333" stroke-width="0.4"/><text x="195.3" y="78.56" stroke-width="0.15">Cluster 3</text><rect x="172" y="82.54" width="21.2" height="9.4" fill="#e0dc64" stroke="#333" stroke-width="0.4"/><text x="195.3" y="90.69" stroke-width="0.15">Cluster 4</text><rect x="172" y="94.67" width="21.2" height="9.4" fill="#ee82e4" stroke="#333" stroke-width="0.4"/><text x="195.3" y="102.83" stroke-width="0.15">Cluster 5</text><rect x="172" y="106.81" width="21.2" height="9.4" fill="#ffa0c8" stroke="#333" stroke-width="0.4"/><text x="195.3" y="114.96" stroke-width="0.15">Cluster 6</text><rect x="172" y="118.94" width="21.2" height="9.4" fill="#9370db" stroke="#333" stroke-width="0.4"/><text x="195.3" y="127.09" stroke-width="0.15">Cluster 7</text><rect x="172" y="131.08" width="21.2" height="9.4" fill="#00b0f0" stroke="#333" stroke-width="0.4"/><text x="195.3" y="139.23" stroke-width="0.15">Cluster 8</text><rect x="172" y="143.22" width="21.2" height="9.4" fill="#0b70c8" stroke="#333" stroke-width="0.4"/><text x="195.3" y="151.37" stroke-width="0.15">Cluster 9</text><rect x="172" y="155.35" width="21.2" height="9.4" fill="#ffc000" stroke="#333" stroke-width="0.4"/><text x="195.3" y="163.50" stroke-width="0.15">Cluster 10</text><rect x="172" y="167.49" width="21.2" height="9.4" fill="#b0d0c4" stroke="#333" stroke-width="0.4"/><text x="195.3" y="175.63" stroke-width="0.15">Cluster 11</text><rect x="172" y="179.62" width="21.2" height="9.4" fill="#e61ed2" stroke="#333" stroke-width="0.4"/><text x="195.3" y="187.77" stroke-width="0.15">Cluster 12</text></g>
</svg></body></html>
